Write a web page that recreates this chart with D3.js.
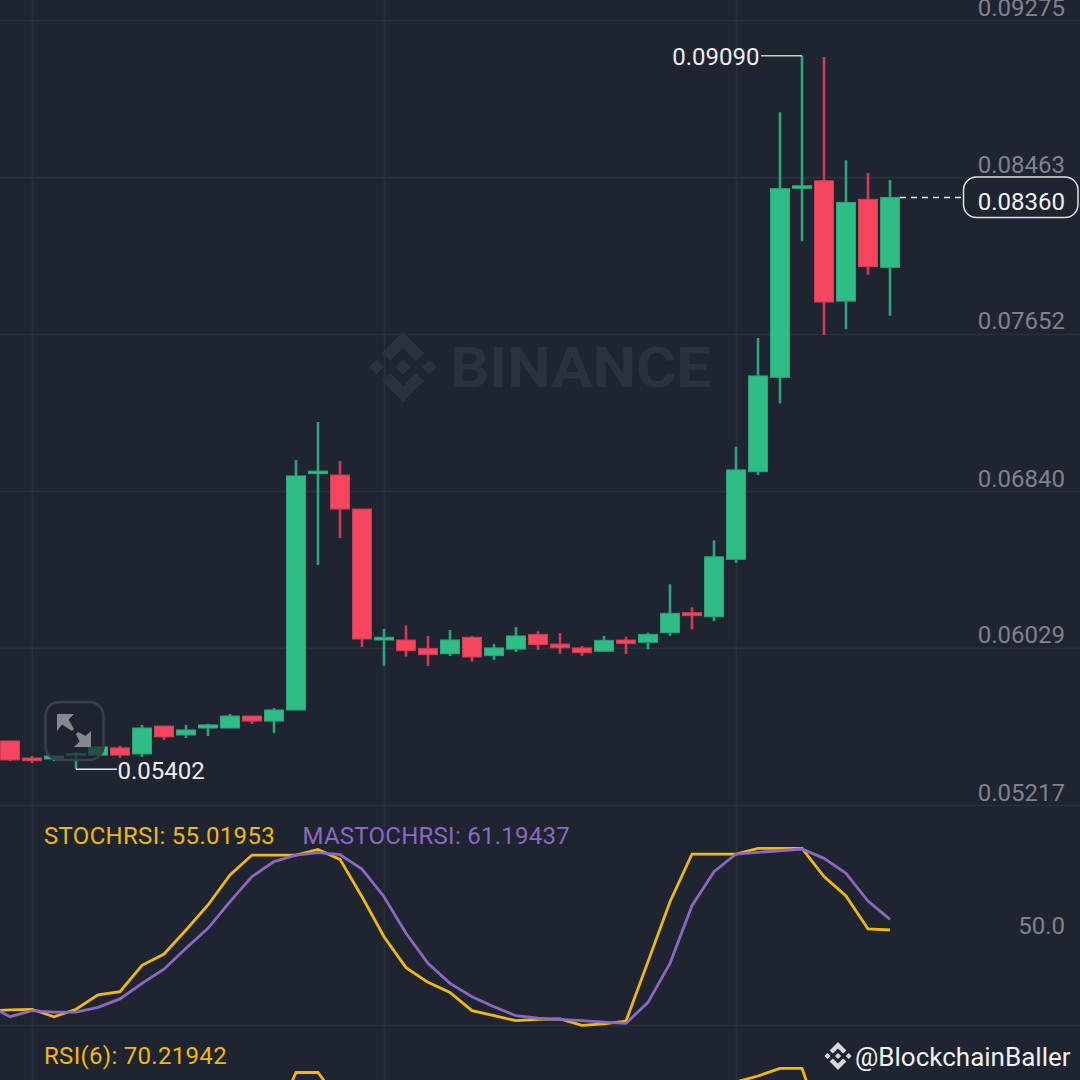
<!DOCTYPE html>
<html>
<head>
<meta charset="utf-8">
<script src="https://cdn.jsdelivr.net/npm/d3@7"></script>
<style>
  html, body { margin: 0; padding: 0; background: #1e2430; overflow: hidden; }
  svg { display: block; }
  text { font-family: Roboto, sans-serif; }
</style>
</head>
<body>
<svg id="chart" width="1080" height="1080"></svg>
<script>
// candles
var opens = [0.05548,0.05460,0.05455,0.05475,0.05475,0.05512,0.05481,0.05625,0.05579,0.05615,0.05615,0.05677,0.05651,0.05708,0.06930,0.06923,0.06747,0.06070,0.06070,0.06025,0.05999,0.06084,0.05989,0.06023,0.06099,0.06049,0.06029,0.06012,0.06070,0.06058,0.06108,0.06211,0.06190,0.06487,0.06940,0.07428,0.08405,0.08444,0.07822,0.08348,0.07996];
var highs = [0.05548,0.05470,0.05475,0.05491,0.05522,0.05522,0.05631,0.05625,0.05631,0.05636,0.05687,0.05677,0.05718,0.07000,0.07197,0.06995,0.06747,0.06127,0.06144,0.06091,0.06122,0.06091,0.06049,0.06137,0.06115,0.06106,0.06039,0.06091,0.06087,0.06108,0.06358,0.06239,0.06585,0.07069,0.07631,0.08798,0.09090,0.09084,0.08550,0.08484,0.08448];
var lows = [0.05444,0.05434,0.05444,0.05402,0.05475,0.05460,0.05465,0.05553,0.05563,0.05574,0.05615,0.05636,0.05589,0.05708,0.06458,0.06597,0.06034,0.05936,0.05984,0.05936,0.05987,0.05958,0.05967,0.06008,0.06018,0.05998,0.05987,0.06012,0.05998,0.06022,0.06092,0.06125,0.06167,0.06469,0.06923,0.07293,0.08131,0.07646,0.07676,0.07958,0.07746];
var closes = [0.05450,0.05446,0.05470,0.05483,0.05517,0.05475,0.05615,0.05569,0.05605,0.05631,0.05677,0.05651,0.05708,0.06918,0.06943,0.06747,0.06075,0.06084,0.06015,0.05994,0.06070,0.05982,0.06029,0.06091,0.06046,0.06030,0.06004,0.06068,0.06051,0.06099,0.06208,0.06196,0.06500,0.06949,0.07435,0.08403,0.08418,0.07817,0.08332,0.08000,0.08358];

// the two stoch lines start one candle left of the frame
var stochRsi = [8.1,8.7,9.1,4.8,9.1,17.4,19.3,34.6,41.1,55.0,69.5,86.9,98.4,98.4,98.4,101.7,95.9,74.3,51.1,33.2,24.7,18.9,8.3,5.4,2.5,3.3,3.5,-0.2,0.6,2.3,36.7,71.4,99.0,99.0,99.0,102.3,102.3,102.3,85.9,74.7,55.6,55.02];
var maStochRsi = [11.6,4.8,8.3,7.4,7.4,10.2,15.1,24.1,32.3,44.4,56.0,71.4,85.9,94.6,98.4,99.8,98.6,90.3,74.3,53.1,35.7,24.1,16.4,10.6,5.4,3.9,3.3,2.5,1.7,1.0,13.1,35.7,69.1,88.8,99.0,100.0,100.9,101.9,96.5,87.8,71.8,61.19];
// only the tops of the RSI line are in the frame
var rsiVisible = [[12,48.7],[13,79.7],[14,79.7],[15,61],[33,73.8],[34,77.5],[35,82.3],[36,82.3],[37,42.5]];

var priceTicks = [0.05217,0.06029,0.06840,0.07652,0.08463,0.09275];
var timeTicks = [1,17,33];
var oscTicks = [50];
var lastPrice = 0.08358, highPrice = 0.09090, lowPrice = 0.05402;

var bg = "#1e2430", gridColor = "#2b313c", labelColor = "#7f838c";
var green = "#2ebd85", red = "#f6465d", greenDark = "#2aa67a", redDark = "#cf3d55";
var yellow = "#f0b90b", purple = "#8c68c2";

var svg = d3.select("#chart");
svg.append("rect").attr("width", 1080).attr("height", 1080).attr("fill", bg);

var x = d3.scaleLinear().domain([0, 40]).range([10, 890]);
var y = d3.scaleLinear().domain([0.05217, 0.09275]).range([805, 20]);
var yOsc = d3.scaleLinear().domain([0, 100]).range([1025, 852.3]);
var yRsi = d3.scaleLinear().domain([0, 100]).range([1200, 1040]);

// gridlines
var gridH = svg.append("g").attr("class", "grid")
  .call(d3.axisRight(y).tickValues(priceTicks).tickSize(1080).tickFormat(""));
var gridZero = svg.append("g").attr("class", "grid")
  .call(d3.axisRight(yOsc).tickValues([0]).tickSize(1080).tickFormat(""));
var gridV = svg.append("g").attr("class", "grid")
  .call(d3.axisBottom(x).tickValues(timeTicks).tickSize(1080).tickFormat(""));
svg.selectAll(".grid .domain").remove();
svg.selectAll(".grid line").attr("stroke", gridColor).attr("stroke-width", 1.6);

// binance logo, used twice
function logo(g, cx, cy, r, color) {
  var paths = [
    "M-.6-.4L0-1L.6-.4L.37-.17L0-.54L-.37-.17Z",
    "M-.6.4L0 1L.6.4L.37.17L0 .54L-.37.17Z",
    "M0-.22L.22 0L0 .22L-.22 0Z",
    "M-.76-.21L-.55 0L-.76 .21L-.97 0Z",
    "M.76-.21L.97 0L.76 .21L.55 0Z"
  ];
  var l = g.append("g").attr("transform", "translate(" + cx + "," + cy + ") scale(" + r + ")");
  paths.forEach(function(p) {
    l.append("path").attr("d", p).attr("fill", color);
  });
}

logo(svg, 403, 367, 35, "#2c323d");
svg.append("text").attr("x", 450).attr("y", 387)
  .attr("font-size", 55).attr("font-weight", 700)
  .attr("textLength", 261).attr("lengthAdjust", "spacingAndGlyphs")
  .attr("font-family", "Inter, sans-serif")
  .attr("fill", "#2c323d").text("BINANCE");

// candles
var candles = opens.map(function(o, i) {
  return { i: i, open: o, high: highs[i], low: lows[i], close: closes[i], up: closes[i] >= o };
});

var candle = svg.append("g").selectAll("g").data(candles).enter().append("g");
candle.append("line")
  .attr("x1", function(d) { return x(d.i); })
  .attr("x2", function(d) { return x(d.i); })
  .attr("y1", function(d) { return y(d.high); })
  .attr("y2", function(d) { return y(d.low); })
  .attr("stroke", function(d) { return d.up ? greenDark : redDark; })
  .attr("stroke-width", 2.6);
candle.append("rect")
  .attr("x", function(d) { return x(d.i) - 9.5; })
  .attr("width", 19)
  .attr("y", function(d) { return y(Math.max(d.open, d.close)); })
  .attr("height", function(d) { return Math.abs(y(d.open) - y(d.close)); })
  .attr("fill", function(d) { return d.up ? green : red; })
  .attr("stroke", function(d) { return d.up ? greenDark : redDark; })
  .attr("stroke-width", 1);

// price labels
var priceAxis = svg.append("g").attr("transform", "translate(1065,0)")
  .call(d3.axisLeft(y).tickValues(priceTicks).tickSize(0).tickPadding(0).tickFormat(d3.format(".5f")));
var oscAxis = svg.append("g").attr("transform", "translate(1065,0)")
  .call(d3.axisLeft(yOsc).tickValues(oscTicks).tickSize(0).tickPadding(0).tickFormat(d3.format(".1f")));
[priceAxis, oscAxis].forEach(function(a) {
  a.select(".domain").remove();
  a.attr("font-size", null).attr("font-family", null);
  a.selectAll("text").attr("fill", labelColor).attr("font-size", 24).attr("dy", -5);
});

// high / low markers
svg.append("line").attr("x1", 761).attr("x2", x(36))
  .attr("y1", y(highPrice)).attr("y2", y(highPrice))
  .attr("stroke", "#c9ccd1").attr("stroke-width", 1.5);
svg.append("text").attr("x", 759.5).attr("y", y(highPrice) + 9.5).attr("text-anchor", "end")
  .attr("font-size", 24).attr("fill", "#eceef0").text(d3.format(".5f")(highPrice));
svg.append("line").attr("x1", x(3)).attr("x2", 117)
  .attr("y1", y(lowPrice)).attr("y2", y(lowPrice))
  .attr("stroke", "#e4e6e9").attr("stroke-width", 1.5);
svg.append("text").attr("x", 117.5).attr("y", y(lowPrice) + 9.5)
  .attr("font-size", 24).attr("fill", "#eceef0").text(d3.format(".5f")(lowPrice));

// last price tag
svg.append("line").attr("x1", 900).attr("x2", 962)
  .attr("y1", y(lastPrice)).attr("y2", y(lastPrice))
  .attr("stroke", "#e8e9eb").attr("stroke-width", 1.5).attr("stroke-dasharray", "6 5");
svg.append("rect").attr("x", 963.5).attr("y", 177).attr("width", 114.5).attr("height", 40.5).attr("rx", 13)
  .attr("fill", bg).attr("stroke", "#e0e2e5").attr("stroke-width", 1.5);
svg.append("text").attr("x", 1065).attr("y", 209.5).attr("text-anchor", "end")
  .attr("font-size", 24).attr("fill", "#f2f3f4").text("0.08360");

// oscillator lines
var stochLine = d3.line().x(function(d, i) { return x(i - 1); }).y(function(d) { return yOsc(d); });
svg.append("path").attr("d", stochLine(stochRsi)).attr("fill", "none")
  .attr("stroke", yellow).attr("stroke-width", 2.8);
svg.append("path").attr("d", stochLine(maStochRsi)).attr("fill", "none")
  .attr("stroke", purple).attr("stroke-width", 2.8);

var rsiLine = d3.line().x(function(d) { return x(d[0]); }).y(function(d) { return yRsi(d[1]); });
svg.append("path").attr("d", rsiLine(rsiVisible.slice(0, 4))).attr("fill", "none")
  .attr("stroke", yellow).attr("stroke-width", 2.8);
svg.append("path").attr("d", rsiLine(rsiVisible.slice(4))).attr("fill", "none")
  .attr("stroke", yellow).attr("stroke-width", 2.8);

// legends
svg.append("text").attr("x", 44).attr("y", 844).attr("font-size", 24).attr("letter-spacing", 0.3).attr("fill", yellow).text("STOCHRSI: 55.01953");
svg.append("text").attr("x", 302.5).attr("y", 844).attr("font-size", 24).attr("letter-spacing", 0.25).attr("fill", purple).text("MASTOCHRSI: 61.19437");
svg.append("text").attr("x", 44).attr("y", 1064).attr("font-size", 24).attr("letter-spacing", 0.3).attr("fill", yellow).text("RSI(6): 70.21942");

// expand button over the candles
svg.append("rect").attr("x", 45.5).attr("y", 702).attr("width", 58).attr("height", 58).attr("rx", 14)
  .attr("fill", bg).attr("fill-opacity", 0.7).attr("stroke", "#3a404b").attr("stroke-width", 2.5);
var arrow = svg.append("g").attr("fill", "#85888f");
arrow.append("path").attr("d", "M57 714L74 714L68.5 719.5L74 729L72 731L62 724.5L57 731Z");
arrow.append("path").attr("d", "M91 747L74 747L79.5 741.5L76 734L78 732L85.5 736L91 731Z");

// signature
logo(svg, 838, 1056, 14, "#d5d7da");
svg.append("text").attr("x", 855).attr("y", 1066).attr("font-size", 26)
  .attr("font-family", "'Noto Sans', sans-serif").attr("fill", "#f0f1f2").text("@BlockchainBaller");
</script>
</body>
</html>
